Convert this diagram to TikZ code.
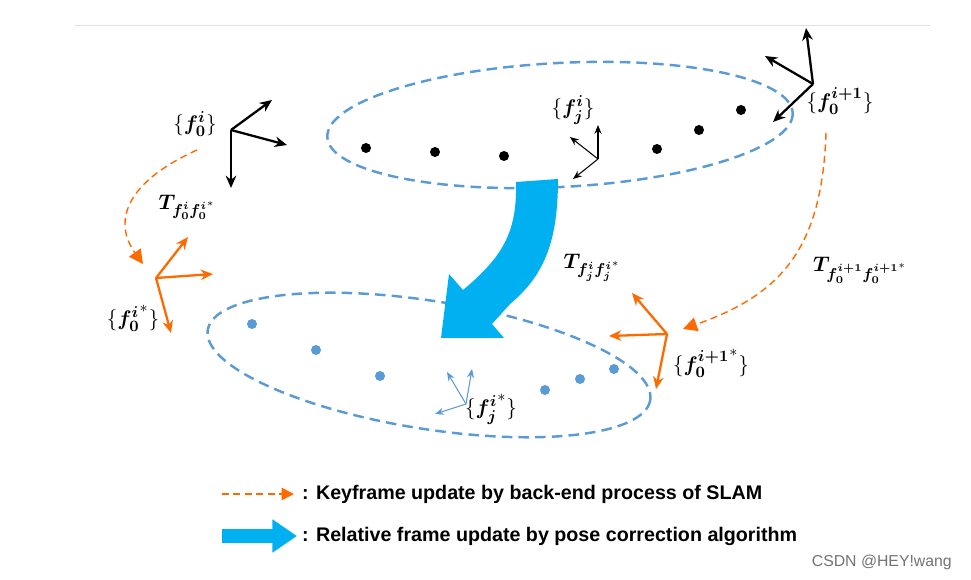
\documentclass[tikz,border=0pt]{standalone}
\usepackage{amsmath,bm}
\usepackage{fontspec}
\newfontfamily\legendfont{Liberation Sans}
\usetikzlibrary{arrows.meta}
\definecolor{ellblue}{HTML}{5B9BD5}
\definecolor{bigcyan}{HTML}{00B0F0}
\definecolor{keyorange}{HTML}{FF6A00}
\tikzset{
  axis/.style={line width=1.3pt, -{Stealth[length=7pt,width=6pt]}},
  small axis/.style={semithick, -{Stealth[length=5pt,width=4pt]}},
  cluster/.style={ellblue, line width=1.4pt, dash pattern=on 6pt off 3.5pt},
  key/.style={keyorange, thick, dash pattern=on 4pt off 2.5pt, -{Triangle[length=8pt,width=8pt]}},
  lbl/.style={font=\fontsize{13}{15}\selectfont},
  legend/.style={anchor=west, font=\legendfont\bfseries\fontsize{11.2}{13}\selectfont},
}
\begin{document}
\begin{tikzpicture}[x=0.02cm, y=-0.02cm]
\useasboundingbox (0,0) rectangle (971,580);
\draw[black!12] (75,25) -- (930,25);

% clusters
\draw[cluster, rotate around={3:(560,125)}] (560,125) ellipse [x radius=233, y radius=62];
\draw[cluster, rotate around={-9:(429,365)}] (429,365) ellipse [x radius=224, y radius=64];

% frame points
\foreach \px/\py in {366/148, 435/152, 504/156, 657/149, 699/130, 741/110}
  \fill (\px,\py) circle [radius=5];
\foreach \px/\py in {252/324, 316/350, 380/376, 545/390, 580/379, 614/369}
  \fill[ellblue] (\px,\py) circle [radius=5];

% keyframe f0^i
\coordinate (F0) at (231,130);
\draw[axis] (F0) -- (272,100);
\draw[axis] (F0) -- (287,145);
\draw[axis] (F0) -- (231,188);
\node[lbl] (F0l) at (195,124) {$\{\bm{f_0^i}\}$};

% frame fj^i
\coordinate (Fj) at (598,159);
\draw[small axis] (Fj) -- (598,125);
\draw[small axis] (Fj) -- (570,137);
\draw[small axis] (Fj) -- (573,179);
\node[lbl] (Fjl) at (573,110) {$\{\bm{f_j^i}\}$};

% keyframe f0^{i+1}
\coordinate (F1) at (813,84);
\draw[axis] (F1) -- (806,28);
\draw[axis] (F1) -- (765,56);
\draw[axis] (F1) -- (773,122);
\node[lbl] (F1l) at (840,101) {$\{\bm{f_0^{i+1}}\}$};

% corrected keyframe f0^{i*}
\coordinate (G0) at (156,278);
\draw[axis, keyorange] (G0) -- (188,237);
\draw[axis, keyorange] (G0) -- (213,274);
\draw[axis, keyorange] (G0) -- (171,333);
\node[lbl] (G0l) at (133,318) {$\{{\bm{f_0^i}}^*\}$};

% corrected keyframe f0^{i+1*}
\coordinate (G1) at (667,334);
\draw[axis, keyorange] (G1) -- (632,293);
\draw[axis, keyorange] (G1) -- (609,336);
\draw[axis, keyorange] (G1) -- (656,389);
\node[lbl] (G1l) at (711,363) {$\{{\bm{f_0^{i+1}}}^*\}$};

% corrected frame fj^{i*}
\coordinate (Gj) at (466,404);
\draw[small axis, ellblue] (Gj) -- (447,372);
\draw[small axis, ellblue] (Gj) -- (472,369);
\draw[small axis, ellblue] (Gj) -- (435,414);
\node[lbl] (Gjl) at (491,409) {$\{{\bm{f_j^i}}^*\}$};

% keyframe updates
\coordinate (K0s) at (197,150);
\coordinate (K0e) at (143,264);
\draw[key] (K0s) .. controls (120,185) and (115,225) .. (K0e);
\coordinate (K1s) at (826,133);
\coordinate (K1e) at (683,329);
\draw[key] (K1s) .. controls (822,250) and (780,295) .. (K1e);
\node[lbl] (T0) at (187,207) {$\bm{T}_{{\bm{f_0^i}}{\bm{f_0^i}}^*}$};
\node[lbl] (T1) at (860,270) {$\bm{T}_{{\bm{f_0^{i+1}}}{\bm{f_0^{i+1}}}^*}$};

% relative frame update
\fill[bigcyan] (516,182) -- (558,179)
  .. controls (558,240) and (545,275) .. (510,304)
  -- (492,324) -- (504,338) -- (441,338) -- (449,274) -- (463,290)
  .. controls (505,255) and (517,230) .. cycle;
\node[lbl] (Tj) at (592,268) {$\bm{T}_{{\bm{f_j^i}}{\bm{f_j^i}}^*}$};

% legend
\coordinate (L1a) at (222,494);
\coordinate (L1b) at (294,494);
\draw[key, -{Triangle[length=7pt,width=7pt]}] (L1a) -- (L1b);
\node[legend] (L1) at (296,494) {: Keyframe update by back-end process of SLAM};
\coordinate (L2a) at (222,536);
\coordinate (L2b) at (297,536);
\draw[bigcyan, line width=7.5pt, -{Triangle[length=14pt,width=18pt]}] (L2a) -- (L2b);
\node[legend] (L2) at (296,536) {: Relative frame update by pose correction algorithm};
\node[anchor=east, font=\legendfont\small, black!55] (wm) at (958,562) {CSDN @HEY!wang};
\end{tikzpicture}
\end{document}
